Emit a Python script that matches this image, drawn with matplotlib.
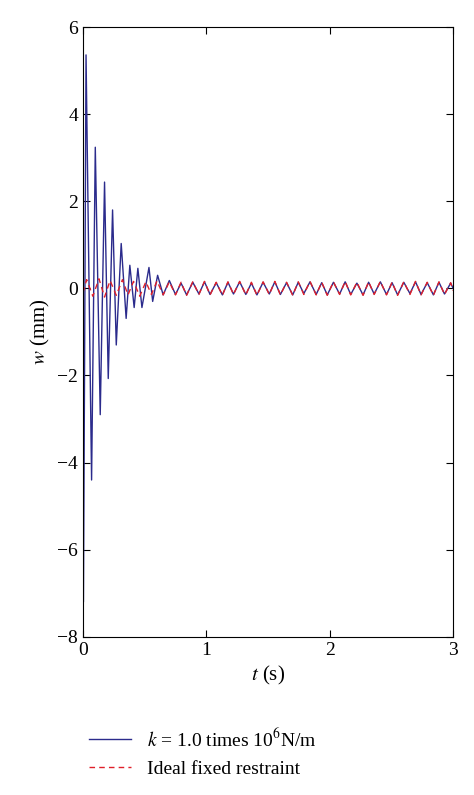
import matplotlib
matplotlib.use("Agg")
import matplotlib.pyplot as plt

plt.rcParams['font.family'] = ['Liberation Serif', 'DejaVu Serif']
plt.rcParams['mathtext.fontset'] = 'stix'

# blue: spring support k = 1.0e6 N/m (extrema)
t_blue_early = [0.0, 0.004, 0.025, 0.07, 0.10, 0.14, 0.175, 0.205, 0.24, 0.27, 0.31, 0.35, 0.38, 0.415, 0.445, 0.478, 0.535, 0.565, 0.605, 0.65]
w_blue_early = [0.0, -7.2, 5.36, -4.4, 3.24, -2.9, 2.44, -2.07, 1.8, -1.3, 1.03, -0.69, 0.53, -0.44, 0.46, -0.44, 0.48, -0.3, 0.3, -0.15]
t_tail = [0.70, 0.75, 0.795, 0.84, 0.89, 0.94, 0.985, 1.03, 1.08, 1.13, 1.175, 1.22, 1.27, 1.32,
          1.365, 1.41, 1.46, 1.51, 1.555, 1.60, 1.65, 1.70, 1.745, 1.79, 1.84, 1.89, 1.935, 1.98,
          2.03, 2.08, 2.125, 2.17, 2.22, 2.27, 2.315, 2.36, 2.41, 2.46, 2.505, 2.55, 2.60, 2.65,
          2.695, 2.74, 2.79, 2.84, 2.885, 2.93, 2.98, 3.0]
w_blue_tail = [0.18, -0.14, 0.12, -0.15, 0.14, -0.13, 0.15, -0.14, 0.13, -0.15, 0.14, -0.13, 0.15, -0.14,
               0.12, -0.15, 0.14, -0.13, 0.15, -0.14, 0.13, -0.15, 0.14, -0.12, 0.15, -0.14, 0.13, -0.15,
               0.14, -0.13, 0.15, -0.14, 0.12, -0.15, 0.14, -0.13, 0.15, -0.14, 0.13, -0.15, 0.14, -0.12,
               0.15, -0.14, 0.13, -0.15, 0.14, -0.13, 0.12, 0.0]

# red: ideal fixed restraint
t_red_early = [0.0, 0.03, 0.08, 0.13, 0.175, 0.22, 0.27, 0.32, 0.365, 0.41, 0.46, 0.51, 0.555, 0.60, 0.65]
w_red_early = [-0.1, 0.2, -0.18, 0.22, -0.2, 0.18, -0.16, 0.2, -0.15, 0.16, -0.18, 0.15, -0.14, 0.17, -0.15]
w_red_tail = [0.15, -0.15, 0.14, -0.16, 0.15, -0.14, 0.16, -0.15, 0.14, -0.16, 0.15, -0.14, 0.16, -0.15,
              0.14, -0.16, 0.15, -0.14, 0.16, -0.15, 0.14, -0.16, 0.15, -0.14, 0.16, -0.15, 0.14, -0.16,
              0.15, -0.14, 0.16, -0.15, 0.14, -0.16, 0.15, -0.14, 0.16, -0.15, 0.14, -0.16, 0.15, -0.14,
              0.16, -0.15, 0.14, -0.16, 0.15, -0.14, 0.13, -0.05]

fig = plt.figure(figsize=(4.74, 7.95), dpi=100)
ax = fig.add_axes([0.175, 0.199, 0.781, 0.767])
ax.plot(t_blue_early + t_tail, w_blue_early + w_blue_tail, color='#2b2b8c', lw=1.0,
        label=r'$k$ = 1.0 times 10$^6$N/m')
ax.plot(t_red_early + t_tail, w_red_early + w_red_tail, color='#e0202a', lw=1.0, ls=(0, (4, 3)),
        label='Ideal fixed restraint')
ax.set_xlim(0, 3)
ax.set_ylim(-8, 6)
ax.set_xticks([0, 1, 2, 3])
ax.set_yticks([-8, -6, -4, -2, 0, 2, 4, 6])
ax.tick_params(direction='in', top=True, right=True, labelsize=14, length=5)
ax.set_xlabel(r'$t$ (s)', fontsize=15)
ax.set_ylabel(r'$w$ (mm)', fontsize=15)
fig.legend(loc='lower left', bbox_to_anchor=(0.15, 0.0), frameon=False, fontsize=14,
           handlelength=2.2)
fig.savefig('out.png', dpi=100)
